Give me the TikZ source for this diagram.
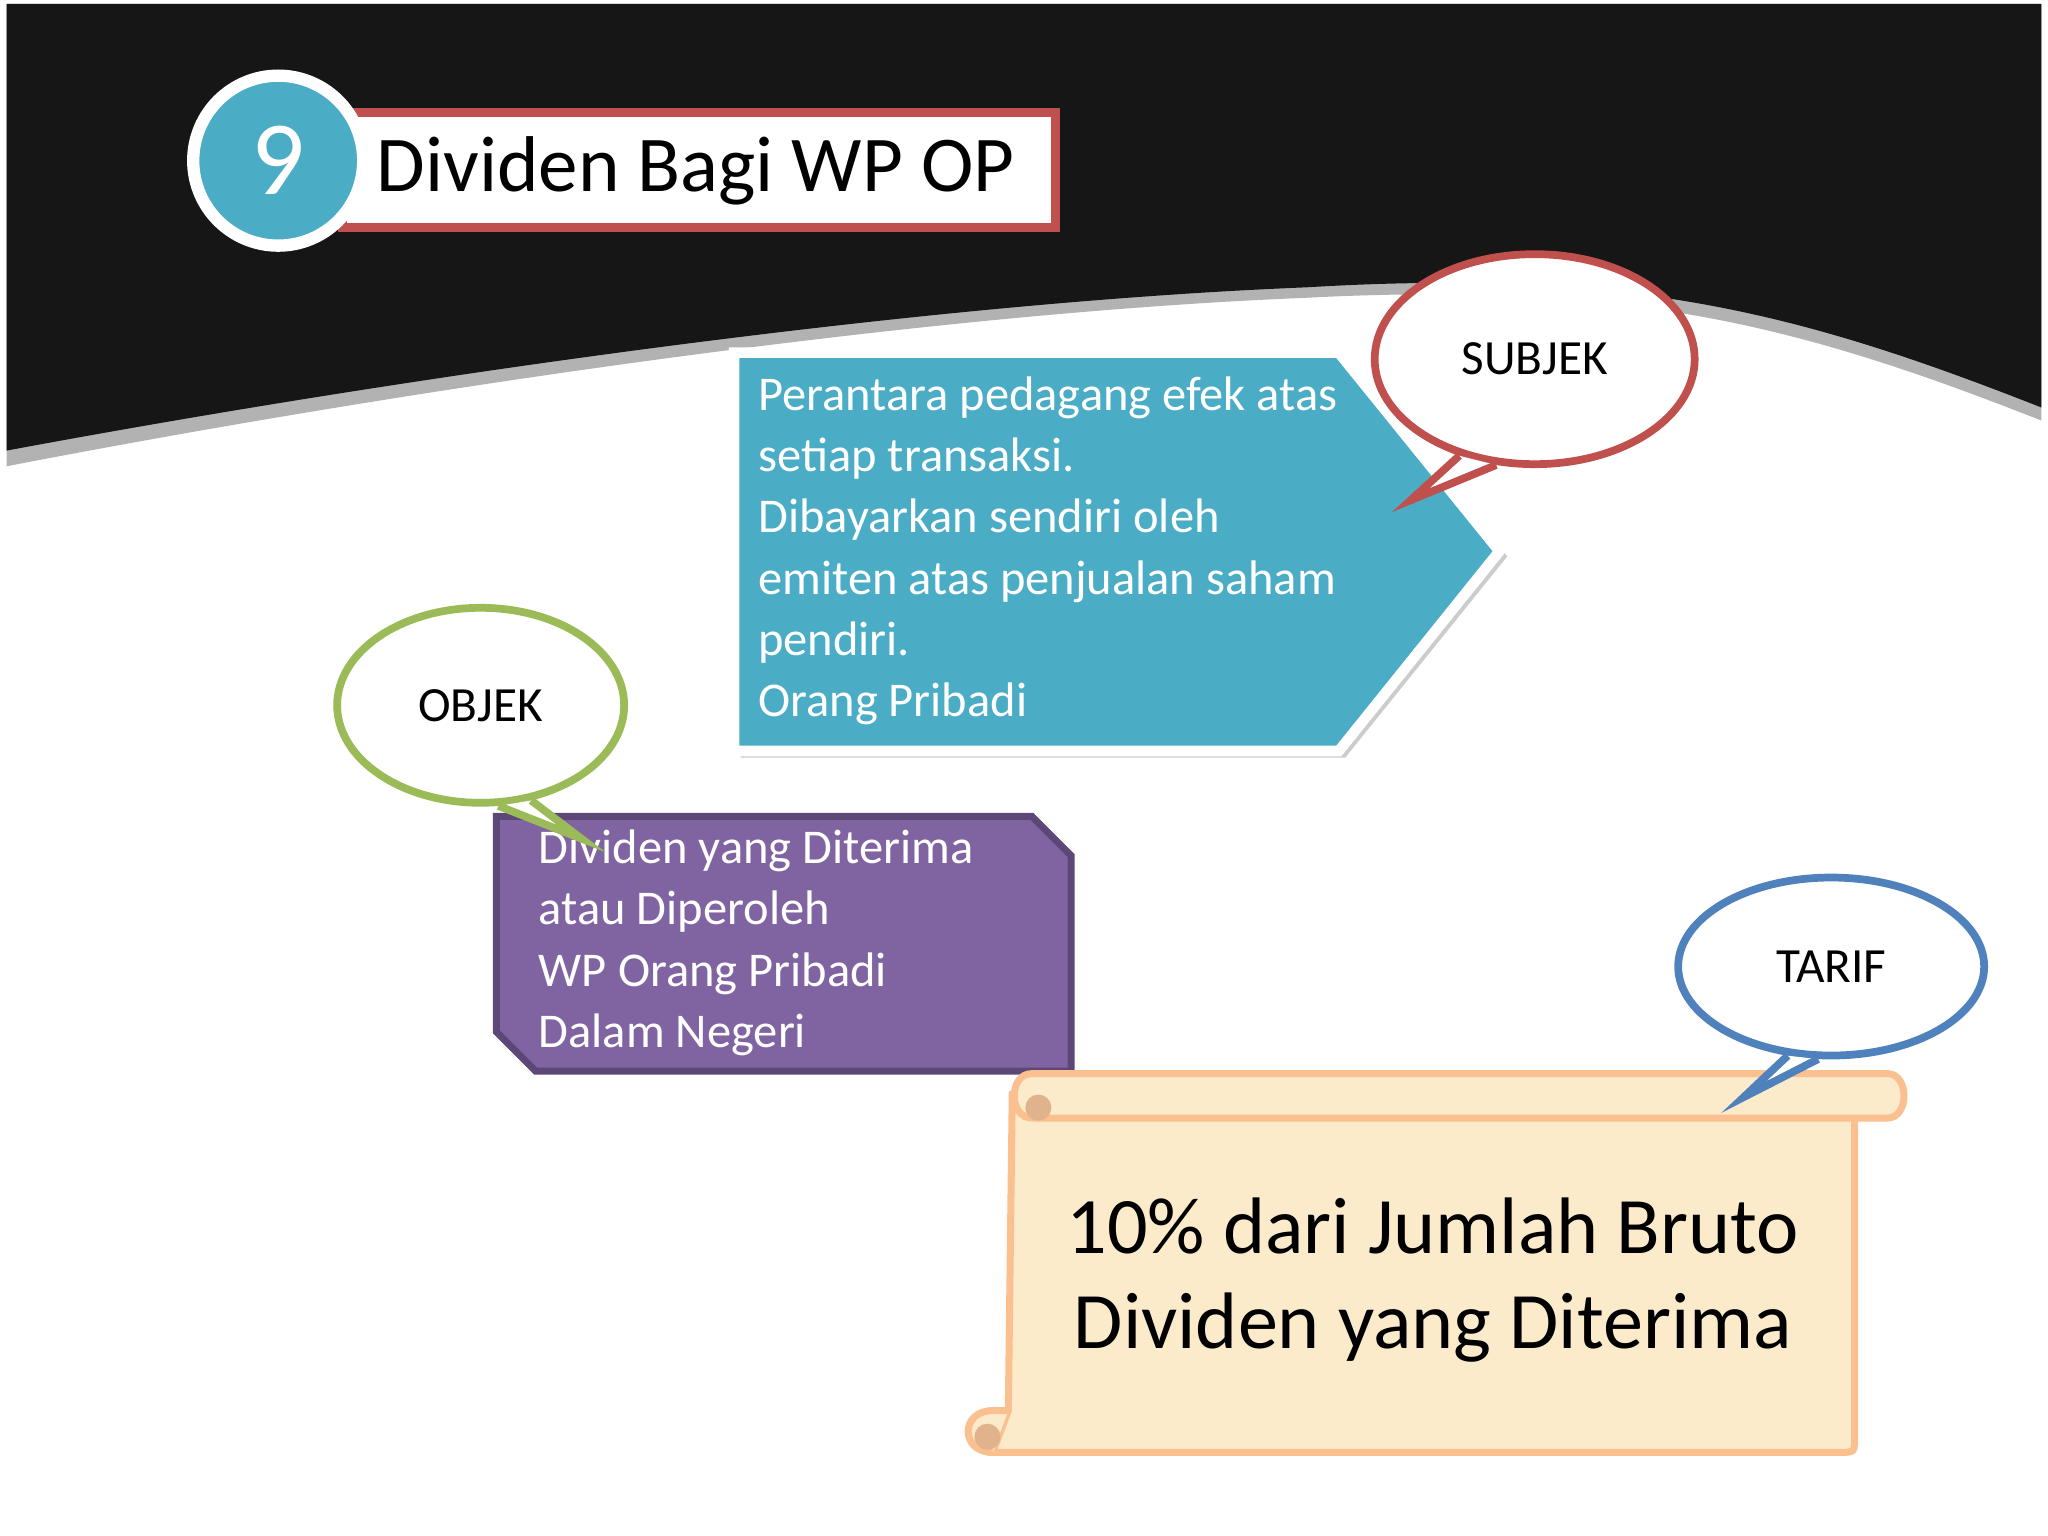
\documentclass[tikz,border=0pt]{standalone}
\usepackage{fontspec}
\setmainfont{Carlito}
\usetikzlibrary{shapes.geometric,positioning,calc}
\definecolor{black1}{HTML}{161616}
\definecolor{blue1}{HTML}{4BACC6}
\definecolor{red1}{HTML}{C0504D}
\definecolor{green1}{HTML}{9BBB59}
\definecolor{navy1}{HTML}{4F81BD}
\definecolor{purple1}{HTML}{8064A2}
\definecolor{purple2}{HTML}{5C4776}
\definecolor{tan1}{HTML}{FCEBCB}
\definecolor{tan2}{HTML}{FAC090}
\tikzset{
  bubble/.style={ellipse,fill=white,line width=2.2pt,inner sep=0pt,font=\fontsize{14}{17}\selectfont},
  bodytext/.style={align=left,anchor=north west,inner sep=0pt,font=\fontsize{13.8}{17.4}\selectfont}
}
\begin{document}
\begin{tikzpicture}[x=0.01306cm,y=-0.01306cm]
\useasboundingbox (0,0) rectangle (1568,1176);
\fill[white] (0,0) rectangle (1568,1176);

% black header with wave
\fill[gray!60] (5,3) -- (1563,3) -- (1563,322) .. controls (1380,250) and (1250,215) .. (1000,228)
  .. controls (700,240) and (300,300) .. (5,357) -- cycle;
\fill[black1] (5,3) -- (1563,3) -- (1563,312) .. controls (1380,240) and (1250,205) .. (1000,220)
  .. controls (700,232) and (300,290) .. (5,345) -- cycle;

% title
\draw[red1,line width=2.5pt,fill=white] (262,86) rectangle (808,174);
\node[anchor=west,inner sep=0pt,font=\fontsize{22.5}{27}\selectfont] (title) at (288,131) {Dividen Bagi WP OP};
\node[circle,fill=blue1,draw=white,line width=3.5pt,minimum size=1.7cm,text=white,font=\fontsize{30}{36}\selectfont] (num) at (213,123) {9};

% subjek box
\fill[gray!40] (567,276) -- (1030,276) -- (1154,426) -- (1030,580) -- (567,580) -- cycle;
\draw[white,line width=3pt,fill=blue1] (562,270) -- (1025,270) -- (1148,422) -- (1025,575) -- (562,575) -- cycle;
\node[bodytext,text=white] (subjtext) at (580,288) {Perantara pedagang efek atas\\setiap transaksi.\\Dibayarkan sendiri oleh\\emiten atas penjualan saham\\pendiri.\\Orang Pribadi};

% objek box
\draw[purple2,line width=2pt,fill=purple1] (380,625) -- (790,625) -- (820,655) -- (820,820) -- (410,820) -- (380,790) -- cycle;
\node[bodytext,text=white] (objtext) at (412,635) {Dividen yang Diterima\\atau Diperoleh\\WP Orang Pribadi\\Dalam Negeri};

% tarif scroll
\draw[tan2,line width=2pt,fill=tan1] (775,838) -- (1420,838) -- (1420,1100) .. controls (1420,1112) .. (1408,1112) -- (760,1112) -- (772,1080) -- cycle;
\draw[tan2,line width=2pt,fill=tan1] (790,822) -- (1445,822) .. controls (1462,822) and (1462,856) .. (1445,856) -- (790,856) .. controls (772,856) and (772,822) .. (790,822) -- cycle;
\fill[tan2!80!gray] (795,848) circle (10);
\draw[tan2,line width=2pt,fill=tan1] (772,1080) -- (760,1080) .. controls (735,1080) and (735,1112) .. (760,1112);
\fill[tan2!80!gray] (756,1100) circle (10);
\node[align=center,inner sep=0pt,font=\fontsize{22.8}{27}\selectfont] (tariftext) at (1097,980) {10\% dari Jumlah Bruto\\Dividen yang Diterima};

% callouts
\node[bubble,draw=red1,minimum width=3.2cm,minimum height=2.1cm] (subj) at (1175,275) {SUBJEK};
\coordinate (subjtip) at (1080,383);
\fill[white] (subj.232) -- (subjtip) -- (subj.250) -- cycle;
\draw[red1,line width=2.2pt,line join=miter] (subj.232) -- (subjtip) -- (subj.250);

\node[bubble,draw=green1,minimum width=2.87cm,minimum height=1.95cm] (obj) at (368,540) {OBJEK};
\coordinate (objtip) at (445,642);
\fill[white] (obj.-62) -- (objtip) -- (obj.-80) -- cycle;
\draw[green1,line width=2.2pt] (obj.-62) -- (objtip) -- (obj.-80);

\node[bubble,draw=navy1,minimum width=3.06cm,minimum height=1.78cm] (tarif) at (1402,740) {TARIF};
\coordinate (tariftip) at (1335,840);
\fill[white] (tarif.244) -- (tariftip) -- (tarif.262) -- cycle;
\draw[navy1,line width=2.2pt] (tarif.244) -- (tariftip) -- (tarif.262);
\end{tikzpicture}
\end{document}
